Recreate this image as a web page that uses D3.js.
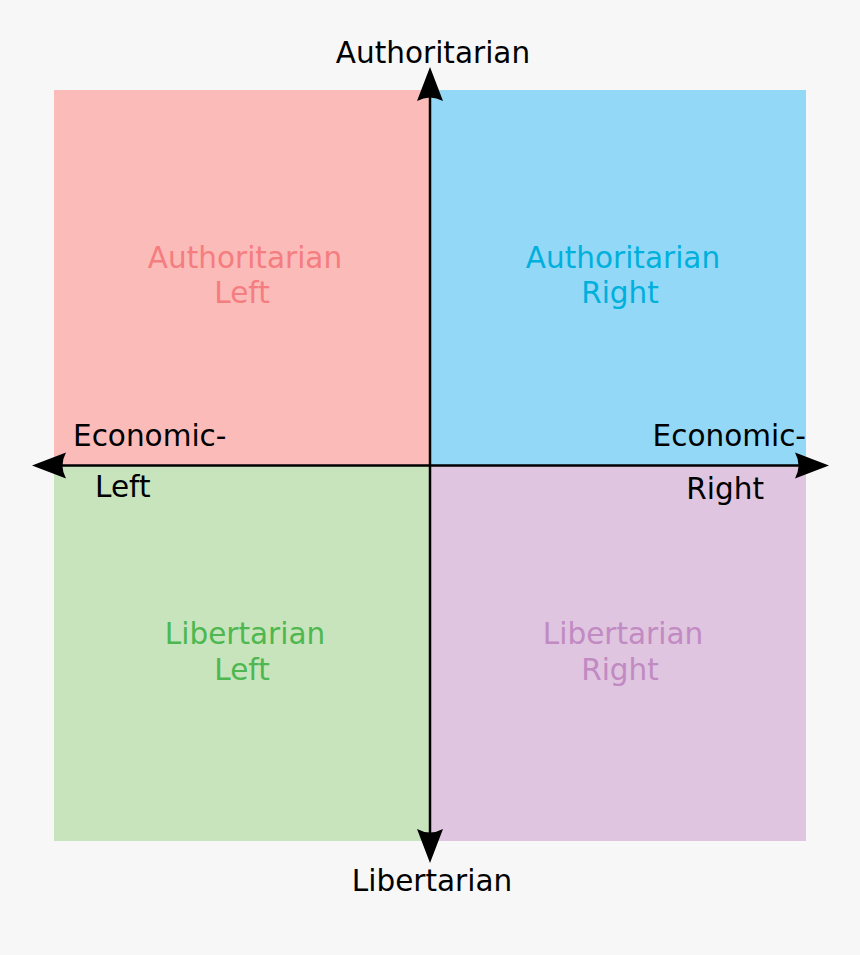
<!DOCTYPE html>
<html>
<head>
<meta charset="utf-8">
<script src="https://cdn.jsdelivr.net/npm/d3@7"></script>
<style>
  html, body { margin: 0; padding: 0; background: #f7f7f7; }
  svg { display: block; font-family: "DejaVu Sans", sans-serif; }
</style>
</head>
<body>
<svg id="chart" width="860" height="955"></svg>
<script>
// quadrants: sign of economic axis, sign of social axis, two-line label
const quadrantNames = ["Authoritarian Left", "Authoritarian Right", "Libertarian Left", "Libertarian Right"];
const quadrantEcon = [-1, 1, -1, 1];
const quadrantSoc = [1, 1, -1, -1];
const quadrantLines = [["Authoritarian", "Left"], ["Authoritarian", "Right"], ["Libertarian", "Left"], ["Libertarian", "Right"]];
const axisExtent = [-10, 10];
const axisTitles = { top: "Authoritarian", bottom: "Libertarian", left: ["Economic-", "Left"], right: ["Economic-", "Right"] };

const fills = { "Authoritarian Left": "#fbbbb9", "Authoritarian Right": "#93d8f7", "Libertarian Left": "#c8e4bd", "Libertarian Right": "#e0c5e0" };
const inks = { "Authoritarian Left": "#f57d7f", "Authoritarian Right": "#00b0dc", "Libertarian Left": "#4eb74f", "Libertarian Right": "#c18ac2" };

const fontSize = "29.5px";

const svg = d3.select("#chart");

const x = d3.scaleLinear().domain(axisExtent).range([54, 806]);
const y = d3.scaleLinear().domain(axisExtent).range([841, 90]);

const quads = quadrantNames.map((name, i) => ({
  name: name,
  econ: quadrantEcon[i],
  soc: quadrantSoc[i],
  lines: quadrantLines[i]
}));

svg.append("g")
  .selectAll("rect")
  .data(quads)
  .enter()
  .append("rect")
  .attr("x", d => d.econ < 0 ? x(axisExtent[0]) : x(0))
  .attr("y", d => d.soc > 0 ? y(axisExtent[1]) : y(0))
  .attr("width", d => d.econ < 0 ? x(0) - x(axisExtent[0]) : x(axisExtent[1]) - x(0))
  .attr("height", d => d.soc > 0 ? y(0) - y(axisExtent[1]) : y(axisExtent[0]) - y(0))
  .style("fill", d => fills[d.name]);

// quadrant labels
const lbl = svg.append("g")
  .selectAll("text")
  .data(quads)
  .enter()
  .append("text")
  .attr("text-anchor", "middle")
  .style("font-size", fontSize)
  .style("fill", d => inks[d.name]);

lbl.selectAll("tspan")
  .data(d => d.lines.map((t, j) => ({ t: t, j: j, d: d })))
  .enter()
  .append("tspan")
  .attr("x", o => x(o.d.econ * 5) + (o.d.econ < 0 ? 3 : 5) + (o.j ? -3 : 0))
  .attr("y", o => y(o.d.soc * 5) + (o.d.soc > 0 ? -10 : -9) + o.j * 35.5)
  .text(o => o.t);

// axes with arrow heads
const ax = svg.append("g").style("stroke", "#000").style("fill", "#000");

ax.append("line")
  .attr("x1", x(axisExtent[0]) - 10).attr("x2", x(axisExtent[1]) + 10)
  .attr("y1", y(0)).attr("y2", y(0))
  .style("stroke-width", 2.5);

ax.append("line")
  .attr("x1", x(0)).attr("x2", x(0))
  .attr("y1", y(axisExtent[1]) - 10).attr("y2", y(axisExtent[0]) + 10)
  .style("stroke-width", 2.5);

// arrow head pointing in direction angle (deg), tip at (tx, ty)
function arrow(tx, ty, angle) {
  const p = d3.path();
  p.moveTo(0, 0);
  p.lineTo(-34, -13);
  p.quadraticCurveTo(-27, 0, -34, 13);
  p.closePath();
  ax.append("path")
    .attr("d", p.toString())
    .attr("transform", `translate(${tx},${ty}) rotate(${angle})`)
    .style("stroke", "none");
}

arrow(x(axisExtent[0]) - 22, y(0), 180);
arrow(x(axisExtent[1]) + 23, y(0), 0);
arrow(x(0), y(axisExtent[1]) - 23, -90);
arrow(x(0), y(axisExtent[0]) + 22, 90);

// axis titles
const titles = svg.append("g").style("font-size", fontSize).style("fill", "#000");

titles.append("text")
  .attr("x", x(0) + 3).attr("y", y(axisExtent[1]) - 27)
  .attr("text-anchor", "middle")
  .text(axisTitles.top);

titles.append("text")
  .attr("x", x(0) + 2).attr("y", y(axisExtent[0]) + 50)
  .attr("text-anchor", "middle")
  .text(axisTitles.bottom);

titles.append("text")
  .attr("x", x(axisExtent[0]) + 19).attr("y", y(0) - 19.5)
  .text(axisTitles.left[0]);
titles.append("text")
  .attr("x", x(axisExtent[0]) + 41).attr("y", y(0) + 31.5)
  .text(axisTitles.left[1]);

titles.append("text")
  .attr("x", x(axisExtent[1])).attr("y", y(0) - 19.5)
  .attr("text-anchor", "end")
  .text(axisTitles.right[0]);
titles.append("text")
  .attr("x", x(axisExtent[1]) - 42).attr("y", y(0) + 33.5)
  .attr("text-anchor", "end")
  .text(axisTitles.right[1]);
</script>
</body>
</html>
